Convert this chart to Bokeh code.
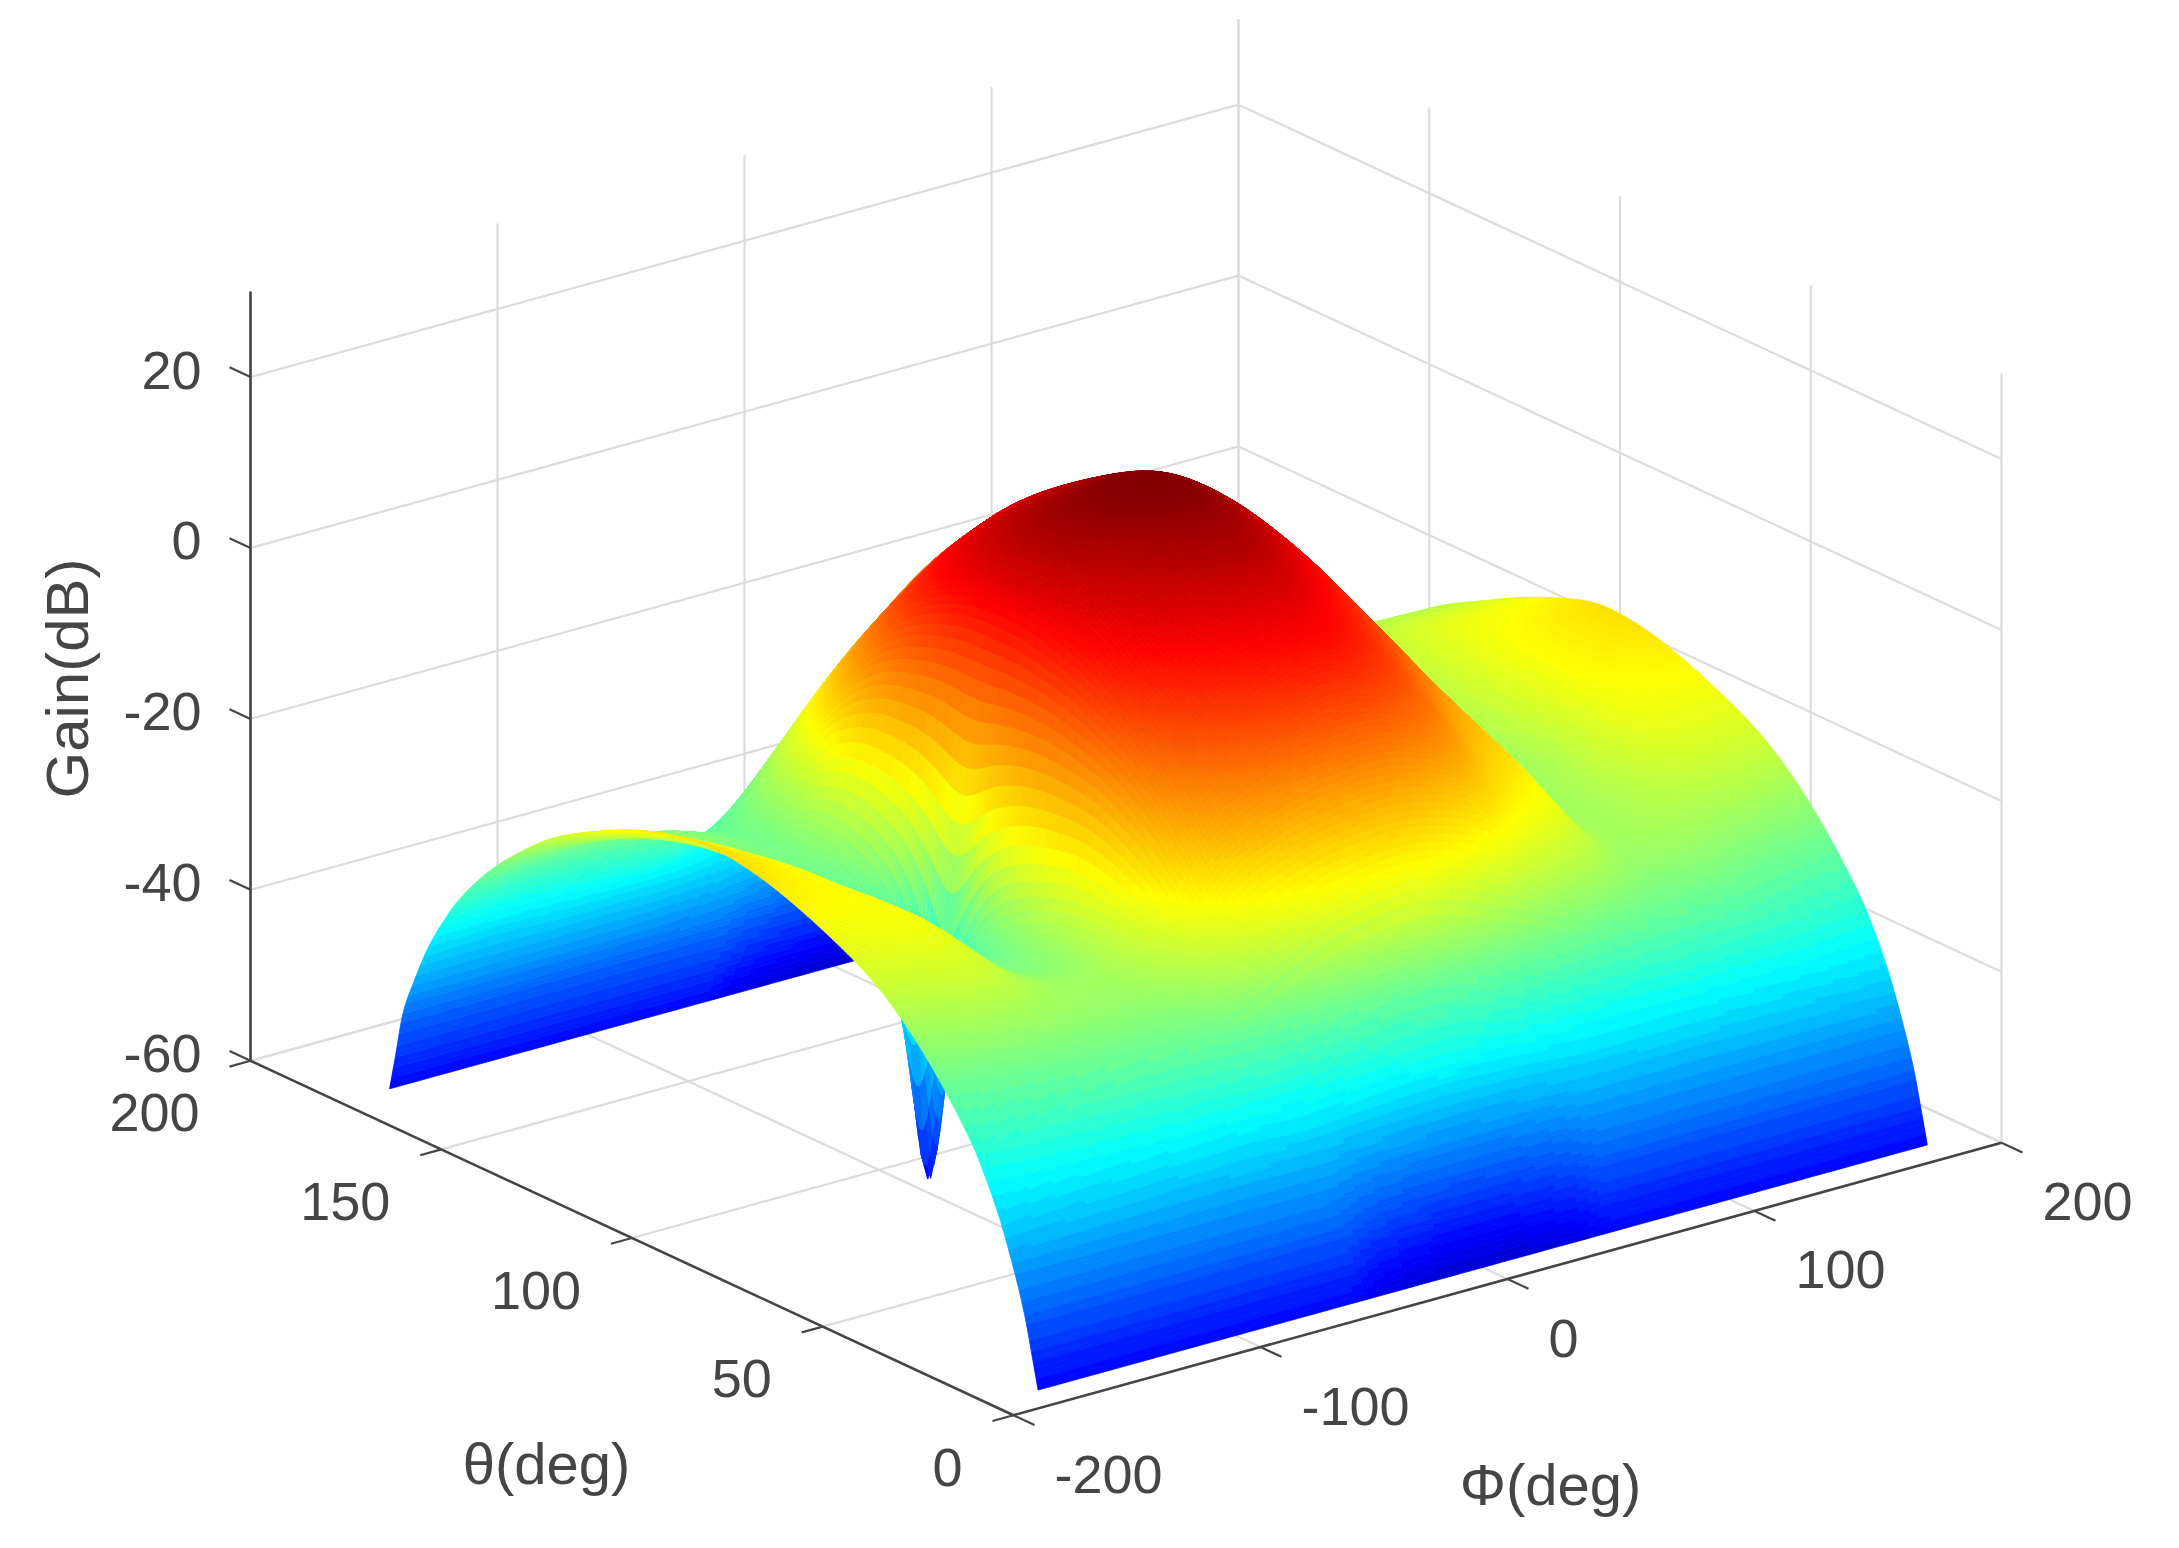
import numpy as np
from bokeh.plotting import figure
from bokeh.models import ColumnDataSource
from bokeh.core.properties import value
from bokeh.embed import file_html
from bokeh.resources import INLINE

# Gain (dB): one list per phi, one value per theta in THETA_READ.
THETA_READ = [6.5, 8, 10, 13, 17, 23, 30, 40, 50, 60, 70, 80, 86, 91.5,
              97, 103, 113, 123, 133, 143, 153, 160, 166, 170, 173, 175, 176.5]
PHI_READ = [-180, -150, -120, -105, -93, -80, -60, -30, 0, 30, 60, 80, 93, 105, 120, 150, 180]
G_M180 = [-60, -56.5, -52, -47, -41.5, -35.5, -30.5, -25, -21, -18.5, -16.5, -15, -14.5, -14.2,
          -14.5, -15, -16.5, -18.8, -21.5, -25.5, -30.5, -35.5, -41, -46, -50.5, -56, -60]
G_M150 = [-60, -56.5, -52, -47, -40.5, -33, -27.5, -22, -19, -17.5, -17.5, -18, -18, -18.5,
          -19, -19.5, -20.5, -22, -24, -26.5, -30, -35, -40.5, -46, -50.5, -56, -60]
G_M120 = [-60, -56.5, -52, -47, -40, -31, -26.5, -25, -25.5, -26.5, -27, -27, -27.5, -27.5,
          -27.5, -27.5, -27, -26.5, -26.5, -27.5, -31, -36, -41, -46, -50.5, -56, -60]
G_M105 = [-60, -56.5, -52, -47, -39.5, -30.5, -26.5, -25, -26.5, -28, -29, -30, -30, -30,
          -30, -30, -29, -28, -28, -29, -32, -37, -41, -46, -50.5, -56, -60]
G_M93 = [-60, -56.5, -52, -47, -39.5, -30, -26, -24, -25, -27, -30, -36, -45, -60,
         -45, -36, -31, -29, -29, -30, -33, -37, -41, -46, -50.5, -56, -60]
G_M80 = [-60, -56.5, -52, -47, -39, -28, -22, -15.5, -12, -10, -10, -11, -12, -13,
         -12.5, -12, -12, -14, -20, -25, -31, -36, -41, -46, -50.5, -56, -60]
G_M60 = [-60, -56.5, -52, -47, -39.5, -25, -16, -8, -3, 0.5, 4, 6, 7, 7,
         7, 6, 3, -2.5, -9, -16.5, -25, -31, -38.5, -45, -50.5, -56, -60]
G_M30 = [-60, -56.5, -52, -47, -38.5, -21, -13, -4, 1.5, 5.5, 9, 11, 13, 13.5,
         13, 11.5, 8.5, 4, -2.5, -9, -16, -23, -35, -44, -50.5, -56, -60]
G_0 = [-60, -56.5, -52, -47, -38, -20, -12, -3, 3.5, 7, 11, 13.5, 14.7, 15,
       14.5, 13, 10, 6.5, 2, -3, -10, -20, -34, -44, -50.5, -56, -60]
G_30 = [-60, -56.5, -52, -47, -38.5, -23, -14, -6, -1, 2, 5, 8, 9, 10,
        10, 9, 6, 2, -2, -8, -15, -23, -35, -44, -50.5, -56, -60]
G_60 = [-60, -56.5, -52, -47, -39.5, -27, -20, -15, -11, -7, -4, -2, -1, -1,
        -1, -2, -4, -8, -12, -17, -24, -31, -38.5, -45, -50.5, -56, -60]
G_80 = [-60, -56.5, -52, -47, -39.5, -29, -23, -18, -15, -14, -14, -15, -17, -18,
        -17, -15, -14, -16, -20, -25, -31, -36, -41, -46, -50.5, -56, -60]
G_93 = [-60, -56.5, -52, -47, -39.5, -30, -26, -24, -24, -25, -28, -34, -44, -60,
        -44, -34, -29, -27, -27, -29, -33, -37, -41, -46, -50.5, -56, -60]
G_105 = [-60, -56.5, -52, -47, -39.5, -30.5, -26.5, -25, -25, -25.5, -26, -27, -28, -29,
         -28, -27, -26, -26, -27, -29, -32, -37, -41, -46, -50.5, -56, -60]
G_120 = [-60, -56.5, -52, -47, -40, -31, -26, -24, -24, -24, -25, -25, -25, -25,
         -25, -25, -25, -25, -26, -27.5, -31, -36, -41, -46, -50.5, -56, -60]
G_150 = [-60, -56.5, -52, -47, -40.5, -33.5, -28.5, -23.5, -20.5, -18.5, -17.5, -17, -17, -17,
         -17.5, -18, -19, -21, -23, -26, -30.5, -35, -40.5, -46, -50.5, -56, -60]
G_180 = [-60, -56.5, -52, -47, -41.5, -35.5, -30.5, -25, -21, -18.5, -16.5, -15, -14.6, -14.4,
         -15, -16, -18, -20.5, -23, -26.5, -31, -36, -41, -46, -50.5, -56, -60]
GAIN_COLUMNS = [G_M180, G_M150, G_M120, G_M105, G_M93, G_M80, G_M60, G_M30, G_0,
                G_30, G_60, G_80, G_93, G_105, G_120, G_150, G_180]

# Extra darkening (dB) of the colour in the low arch around phi = 0
DOME_PHI = [-180, -55, -40, -20, 0, 20, 40, 55, 180]
DOME_DB = [0, 0, 2.2, 3.7, 4.2, 3.7, 2.2, 0, 0]

PHI_TICKS = [-200, -100, 0, 100, 200]
THETA_TICKS = [0, 50, 100, 150, 200]
GAIN_TICKS = [-60, -40, -20, 0, 20]
GAIN_TOP = 30
CLIM = (-70.7, 15.0)
NULLS = [(-93, 91.5), (93, 91.5)]

W, H = 2179, 1548
INK = "#454545"
GRID = "#dcdcdc"
FONT = value("Liberation Sans")


def project(phi, theta, gain):
    phi, theta, gain = np.asarray(phi, float), np.asarray(theta, float), np.asarray(gain, float)
    x = 1013 + 2.470 * (phi + 200) - 3.815 * theta
    y = 1414.7 - 0.681 * (phi + 200) - 1.772 * theta - 8.547 * (gain + 60)
    return x, y


def pchip(x, y, q):
    x, y, q = np.asarray(x, float), np.asarray(y, float), np.asarray(q, float)
    h = np.diff(x)
    d = np.diff(y) / h
    m = np.zeros_like(y)
    m[0], m[-1] = d[0], d[-1]
    for i in range(1, len(x) - 1):
        if d[i - 1] * d[i] > 0:
            a, b = 2 * h[i] + h[i - 1], h[i] + 2 * h[i - 1]
            m[i] = (a + b) / (a / d[i - 1] + b / d[i])
    k = np.clip(np.searchsorted(x, q, side="right") - 1, 0, len(h) - 1)
    t = (q - x[k]) / h[k]
    return ((2*t**3 - 3*t**2 + 1) * y[k] + (t**3 - 2*t**2 + t) * h[k] * m[k]
            + (-2*t**3 + 3*t**2) * y[k + 1] + (t**3 - t**2) * h[k] * m[k + 1])


def jet(key):
    v = (key + 0.5) / 256
    def ch(c):
        return np.clip(1.5 - abs(4 * v - c), 0, 1)
    return "#%02x%02x%02x" % (int(ch(3) * 255), int(ch(2) * 255), int(ch(1) * 255))


def smooth(a, axis, passes):
    a = a.copy()
    for _ in range(passes):
        s = (np.roll(a, 1, axis) + a + np.roll(a, -1, axis)) / 3
        if axis == 1:
            s[:, 0], s[:, -1] = a[:, 0], a[:, -1]
        else:
            s[0], s[-1] = a[0], a[-1]
        a = s
    return a


# Shading mesh: the read values above stay the only data; cells between them are
# shaded smoothly, as a surface renderer does between its vertices.
table = np.array(GAIN_COLUMNS, float)
theta_fine = np.concatenate([np.arange(6.5, 22, 0.25), np.arange(22, 161, 0.75), np.arange(161, 176.51, 0.25)])
phi_fine = np.arange(-180, 180.01, 1.5)
by_theta = np.array([pchip(THETA_READ, col, theta_fine) for col in table])
gain = np.array([pchip(PHI_READ, by_theta[:, j], phi_fine) for j in range(len(theta_fine))])  # [theta, phi]
P, T = np.meshgrid(phi_fine, theta_fine)

soft_phi = smooth(gain, 1, 24)
soft = smooth(soft_phi, 0, 24)
edge = np.clip((np.abs(T - 91.5) - 62) / 8, 0, 1)
blend = edge * soft_phi + (1 - edge) * soft
keep = np.zeros_like(gain)
for ph, th in NULLS:
    keep = np.maximum(keep, np.exp(-((P - ph) / 8) ** 2 - ((T - th) / 8) ** 2))
gain = keep * gain + (1 - keep) * blend

X, Y = project(P, T, np.maximum(gain, -60))
cell = (gain[:-1, :-1] + gain[1:, :-1] + gain[:-1, 1:] + gain[1:, 1:]) / 4
phi_cell = (phi_fine[:-1] + phi_fine[1:]) / 2
dome = pchip(DOME_PHI, DOME_DB, phi_cell)[None, :] * np.clip((-38 - cell) / 22, 0, 1)
shade = cell - dome
u = np.clip((shade - CLIM[0]) / (CLIM[1] - CLIM[0]), 0, 0.9999)
key = np.where(shade < -30, (u * 64).astype(int) * 4 + 2, (u * 256).astype(int))
palette = [jet(i) for i in range(256 + 8)]

xs, ys, cols = [], [], []
# Back to front: far theta rows first, far phi cells first
for j in range(len(theta_fine) - 2, -1, -1):
    i = len(phi_fine) - 2
    while i >= 0:
        k = i
        while k - 1 >= 0 and key[j, k - 1] == key[j, i]:
            k -= 1
        xs.append(np.r_[X[j, k:i + 2], X[j + 1, k:i + 2][::-1]].round(2).tolist())
        ys.append(np.r_[Y[j, k:i + 2], Y[j + 1, k:i + 2][::-1]].round(2).tolist())
        cols.append(palette[key[j, i]])
        i = k - 1

p = figure(width=W - 16, height=H - 16, x_range=(0, W - 16), y_range=(H - 16, 0),
           output_backend="svg", toolbar_location=None, min_border=0, outline_line_color=None)
p.axis.visible = False
p.grid.visible = False
p.background_fill_color = "white"


def seg(phi0, th0, z0, phi1, th1, z1, color, width):
    x, y = project([phi0, phi1], [th0, th1], [z0, z1])
    p.line(x, y, line_color=color, line_width=width)


ZLOW = GAIN_TICKS[0]
PMIN, PMAX = PHI_TICKS[0], PHI_TICKS[-1]
TMIN, TMAX = THETA_TICKS[0], THETA_TICKS[-1]
for ph in PHI_TICKS:
    seg(ph, TMIN, ZLOW, ph, TMAX, ZLOW, GRID, 2.2)
    seg(ph, TMAX, ZLOW, ph, TMAX, GAIN_TOP, GRID, 2.2)
for th in THETA_TICKS:
    seg(PMIN, th, ZLOW, PMAX, th, ZLOW, GRID, 2.2)
    seg(PMAX, th, ZLOW, PMAX, th, GAIN_TOP, GRID, 2.2)
for z in GAIN_TICKS:
    seg(PMIN, TMAX, z, PMAX, TMAX, z, GRID, 2.2)
    seg(PMAX, TMAX, z, PMAX, TMIN, z, GRID, 2.2)

src = ColumnDataSource(dict(xs=xs, ys=ys, c=cols))
p.patches("xs", "ys", source=src, fill_color="c", line_color="c", line_width=0.8)

seg(PMIN, TMIN, ZLOW, PMAX, TMIN, ZLOW, INK, 2.6)
seg(PMIN, TMIN, ZLOW, PMIN, TMAX, ZLOW, INK, 2.6)
seg(PMIN, TMAX, ZLOW, PMIN, TMAX, GAIN_TOP, INK, 2.6)
for ph in PHI_TICKS:
    seg(ph, TMIN, ZLOW, ph, TMIN - 5.5, ZLOW, INK, 2.2)
for th in THETA_TICKS:
    seg(PMIN, th, ZLOW, PMIN - 8.5, th, ZLOW, INK, 2.2)
for z in GAIN_TICKS:
    seg(PMIN, TMAX, z, PMIN, TMAX + 5.5, z, INK, 2.2)


def label(xv, yv, texts, align, dx, dy, size="54px"):
    p.text(np.asarray(xv) + dx, np.asarray(yv) + dy, text=texts, text_align=align, text_baseline="middle",
           text_font=FONT, text_font_size=size, text_color=INK)


x, y = project(PHI_TICKS, [TMIN] * 5, [ZLOW] * 5)
label(x, y, [str(v) for v in PHI_TICKS], "left", 41, 59)
x, y = project([PMIN] * 5, THETA_TICKS, [ZLOW] * 5)
label(x, y, [str(v) for v in THETA_TICKS], "right", -51, 52)
x, y = project([PMIN] * 5, [TMAX] * 5, GAIN_TICKS)
label(x, y, [str(v) for v in GAIN_TICKS], "right", -49, -7)

p.text([546], [1463], text=["θ(deg)"], text_align="center", text_baseline="middle", text_font=FONT,
       text_font_size="58px", text_color=INK)
p.text([1550], [1484], text=["Φ(deg)"], text_align="center", text_baseline="middle", text_font=FONT,
       text_font_size="58px", text_color=INK)
p.text([67], [678], text=["Gain(dB)"], angle=np.pi / 2, text_align="center", text_baseline="middle",
       text_font=FONT, text_font_size="60px", text_color=INK)

open("out.html", "w").write(file_html(p, INLINE))
